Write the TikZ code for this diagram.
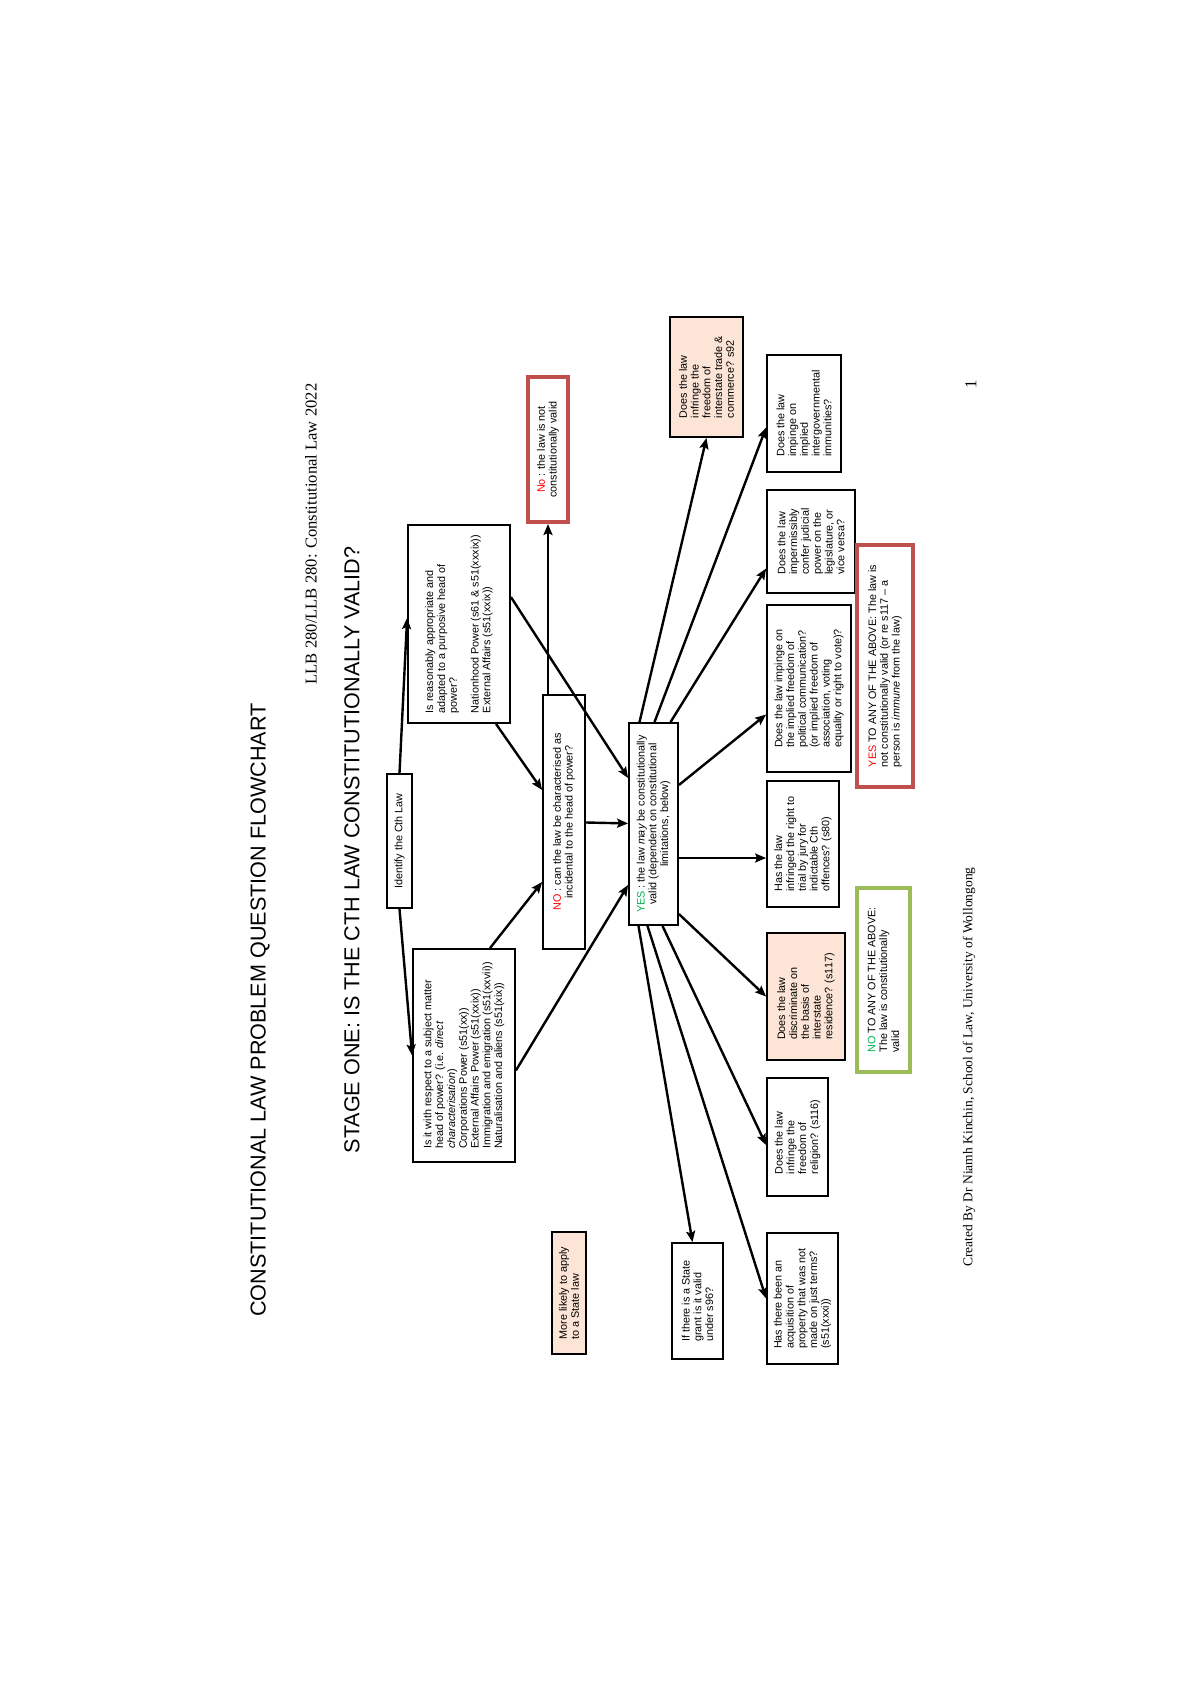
\documentclass[tikz,border=0pt]{standalone}
\usepackage{fontspec}
\setmainfont{Liberation Serif}
\setsansfont{Liberation Sans}
\usetikzlibrary{calc}
\usetikzlibrary{arrows.meta}

\definecolor{peach}{RGB}{252,228,214}
\definecolor{boxred}{RGB}{192,80,77}
\definecolor{boxgreen}{RGB}{155,187,89}
\definecolor{yesgreen}{RGB}{0,176,80}

\newcommand{\boxfont}{\sffamily\fontsize{5.4}{5.9}\selectfont}
\newcommand{\titlefont}{\sffamily\fontsize{10.8}{13}\selectfont}
\newcommand{\headfont}{\rmfamily\fontsize{8.3}{10}\selectfont}
\newcommand{\footfont}{\rmfamily\fontsize{6.75}{8}\selectfont}

\begin{document}
\begin{tikzpicture}
  [x=0.5pt, y=-0.5pt,
   box/.style = {draw, line width=0.9pt, rotate=90, align=left, inner sep=2pt, font=\boxfont},
   peachbox/.style = {box, fill=peach},
   redbox/.style = {box, draw=boxred, line width=2pt},
   greenbox/.style = {box, draw=boxgreen, line width=2pt},
   arr/.style = {->, >={Stealth[length=5.5pt, width=4.5pt, inset=1pt]}, line width=1.2pt}]
  \useasboundingbox (0,0) rectangle (1200,1698);

  % headings
  \node (title) [rotate=90, font=\titlefont] at (260,1010) {CONSTITUTIONAL LAW PROBLEM QUESTION FLOWCHART};
  \node (stage) [rotate=90, font=\titlefont] at (352,850) {STAGE ONE: IS THE CTH LAW CONSTITUTIONALLY VALID?};
  \node (header) [rotate=90, font=\headfont] at (311,534) {LLB 280/LLB 280: Constitutional Law 2022};
  \node (page) [rotate=90, font=\headfont] at (971,384) {1};
  \node (footer) [rotate=90, font=\footfont] at (969,1067) {Created By Dr Niamh Kinchin, School of Law, University of Wollongong};

  % characterisation
  \node (ident) [box, minimum width=67pt, minimum height=12.5pt] at (399.5,841) {Identify the Cth Law};
  \node (subject) [box, minimum width=106.5pt, minimum height=51pt] at (464,1055.5)
    {Is it with respect to a subject matter\\ head of power? (i.e. \textit{direct}\\ \textit{characterisation})\\
     Corporations Power (s51(xx))\\ External Affairs Power (s51(xxix))\\
     Immigration and emigration (s51(xxvii))\\ Naturalisation and aliens (s51(xix))};
  \node (adapted) [box, minimum width=99pt, minimum height=51pt] at (459,624)
    {Is reasonably appropriate and\\ adapted to a purposive head of\\ power?\\[5pt]
     Nationhood Power (s61 \& s51(xxxix))\\ External Affairs (s51(xxix))};
  \node (incid) [box, align=center, minimum width=127pt, minimum height=21pt] at (564,822)
    {\textcolor{red}{NO} : can the law be characterised as\\ incidental to the head of power?};
  \node (valid) [box, align=center, minimum width=101pt, minimum height=24.5pt] at (653.5,824)
    {\textcolor{yesgreen}{YES} : the law \textit{may} be constitutionally\\ valid (dependent on constitutional\\ limitations, below)};
  \node (invalid) [redbox, align=center, minimum width=72.5pt, minimum height=20pt] at (548,449.5)
    {\textcolor{red}{No} : the law is not\\ constitutionally valid};

  % limitations
  \node (trade) [peachbox, minimum width=60pt, minimum height=36.5pt] at (706.5,377)
    {Does the law\\ infringe the\\ freedom of\\ interstate trade \&\\ commerce? s92};
  \node (immun) [box, minimum width=58.5pt, minimum height=37pt] at (804,413.5)
    {Does the law\\ impinge on\\ implied\\ intergovernmental\\ immunities?};
  \node (judic) [box, minimum width=51.5pt, minimum height=44pt] at (811,541.5)
    {Does the law\\ impermissibly\\ confer judicial\\ power on the\\ legislature, or\\ vice versa?};
  \node (polit) [box, minimum width=83.5pt, minimum height=42pt] at (809,688.5)
    {Does the law impinge on\\ the implied freedom of\\ political communication?\\ (or implied freedom of\\ association, voting\\ equality or right to vote)?};
  \node (jury) [box, minimum width=63pt, minimum height=36pt] at (803,844)
    {Has the law\\ infringed the right to\\ trial by jury for\\ indictable Cth\\ offences? (s80)};
  \node (resid) [peachbox, minimum width=63.5pt, minimum height=39pt] at (806,996.5)
    {Does the law\\ discriminate on\\ the basis of\\ interstate\\ residence? (s117)};
  \node (relig) [box, minimum width=59pt, minimum height=30.5pt] at (797.5,1137)
    {Does the law\\ infringe the\\ freedom of\\ religion? (s116)};
  \node (acqui) [box, minimum width=65.5pt, minimum height=35.5pt] at (802.5,1298.5)
    {Has there been an\\ acquisition of\\ property that was not\\ made on just terms?\\ (s51(xxxi))};
  \node (grant) [box, minimum width=58pt, minimum height=25.5pt] at (697.5,1301)
    {If there is a State\\ grant is it valid\\ under s96?};
  \node (statelaw) [peachbox, minimum width=61pt, minimum height=17pt] at (569,1293)
    {More likely to apply\\ to a State law};
  \node (anyyes) [redbox, minimum width=121pt, minimum height=28pt] at (885,666)
    {\textcolor{red}{YES} TO ANY OF THE ABOVE: The law is\\ not constitutionally valid (or re s117 -- a\\ person is \textit{immune} from the law)};
  \node (anyno) [greenbox, minimum width=92pt, minimum height=26.5pt] at (883.5,980)
    {\textcolor{yesgreen}{NO} TO ANY OF THE ABOVE:\\ The law is constitutionally\\ valid};

  % connectors
  \draw[arr] (ident.west) -- (subject.north);
  \draw[arr] (ident.east) -- ($(adapted.north)+(0,-6)$);
  \draw[arr] ($(subject.east)+(26,0)$) -- ($(incid.north)+(0,60)$);
  \draw[arr] ($(adapted.west)+(37,0)$) -- ($(incid.north)+(0,-32)$);
  \draw[arr] ($(subject.south)+(0,15)$) -- ($(valid.north)+(0,61)$);
  \draw[arr] ($(adapted.south)+(0,-27)$) -- ($(valid.north)+(0,-46)$);
  \draw[arr] (incid) -- (valid);
  \draw[arr] (incid.east -| invalid.west) -- (invalid.west);

  \draw[arr] ($(valid.east)+(-14,0)$) -- (trade.west);
  \draw[arr] ($(valid.east)+(1,0)$) -- ($(immun.north)+(0,14)$);
  \draw[arr] ($(valid.east)+(17,0)$) -- ($(judic.north)+(0,27)$);
  \draw[arr] ($(valid.south)+(0,-39)$) -- ($(polit.north)+(0,26)$);
  \draw[arr] ($(valid.south)+(0,34)$) -- ($(jury.north)+(0,14)$);
  \draw[arr] ($(valid.south)+(0,90)$) -- (resid.north);
  \draw[arr] ($(valid.west)+(9,0)$) -- ($(relig.north)+(0,8)$);
  \draw[arr] ($(valid.west)+(-6,0)$) -- (acqui.north);
  \draw[arr] ($(valid.west)+(-15,0)$) -- ($(grant.east)+(-5,0)$);
\end{tikzpicture}
\end{document}
